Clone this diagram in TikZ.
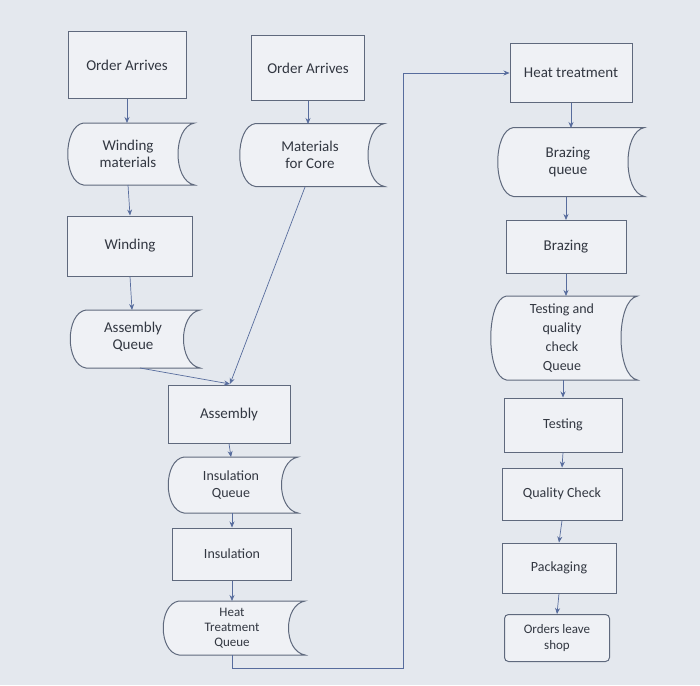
\documentclass[tikz,border=0pt]{standalone}
\usepackage{fontspec}
\setmainfont{Carlito}
\usetikzlibrary{arrows.meta}
\definecolor{ln}{RGB}{95,105,125}
\definecolor{bl}{RGB}{70,100,170}
\definecolor{tx}{RGB}{50,55,65}
\definecolor{bg}{RGB}{228,232,238}
\tikzset{
 box/.style={draw=ln,line width=1pt,minimum width=#1,align=center,text=tx,font=\fontsize{15}{17}\selectfont,fill=bg!60!white},
 q/.style={align=center,text=tx,font=\fontsize{15}{17}\selectfont},
 con/.style={draw=bl!70!gray,line width=0.7pt,-{Stealth[length=6pt,width=5pt]}},
}
\newcommand{\qshape}[5]{% name cx cy w h
 \path (#2-#4/2,#3-#5/2) coordinate (#1-nw) (#2+#4/2,#3+#5/2) coordinate (#1-se);
 \draw[ln,line width=1pt,fill=bg!60!white] (#2-#4/2+16,#3-#5/2) -- (#2+#4/2,#3-#5/2)
   .. controls (#2+#4/2-22,#3-#5/2+4) and (#2+#4/2-22,#3+#5/2-4) .. (#2+#4/2,#3+#5/2)
   -- (#2-#4/2+16,#3+#5/2)
   .. controls (#2-#4/2-5,#3+#5/2-3) and (#2-#4/2-5,#3-#5/2+3) .. cycle;
}
\begin{document}
\begin{tikzpicture}[x=1pt,y=-1pt]
\fill[bg] (0,0) rectangle (700,685);
\useasboundingbox (0,0) rectangle (700,685);
\node[box=118pt,minimum height=66pt] (oa1) at (127,65) {Order Arrives};
\node[box=113pt,minimum height=64pt] (oa2) at (308,68) {Order Arrives};
\node[box=122pt,minimum height=58pt] (ht) at (571,73) {Heat treatment};
\qshape{wm}{131}{154}{127}{62}\node[q] (wmt) at (128,154) {Winding\\materials};
\qshape{mc}{312}{155}{145}{63}\node[q] (mct) at (310,155) {Materials\\for Core};
\qshape{bq}{571}{162}{147}{69}\node[q] (bqt) at (568,162) {Brazing\\queue};
\node[box=125pt,minimum height=60pt] (w) at (130,246) {Winding};
\node[box=120pt,minimum height=53pt] (b) at (566,247) {Brazing};
\qshape{aq}{135}{339}{130}{58}\node[q] (aqt) at (133,337) {Assembly\\Queue};
\qshape{tq}{564}{338}{147}{84}\node[q,font=\fontsize{14}{19}\selectfont] (tqt) at (562,338) {Testing and\\quality\\check\\Queue};
\node[box=122pt,minimum height=58pt] (a) at (229,414) {Assembly};
\node[box=118pt,minimum height=54pt,font=\fontsize{14}{16}\selectfont] (t) at (563,425) {Testing};
\qshape{iq}{233}{485}{130}{56}\node[q,font=\fontsize{14}{17}\selectfont] (iqt) at (231,485) {Insulation\\Queue};
\node[box=120pt,minimum height=52pt,font=\fontsize{14}{16}\selectfont] (qc) at (562,494) {Quality Check};
\node[box=119pt,minimum height=52pt,font=\fontsize{14}{16}\selectfont] (i) at (232,554) {Insulation};
\node[box=114pt,minimum height=50pt,font=\fontsize{14}{16}\selectfont] (p) at (559,568) {Packaging};
\qshape{hq}{234}{628}{142}{54}\node[q,font=\fontsize{13}{15}\selectfont] (hqt) at (232,628) {Heat\\Treatment\\Queue};
\node[box=105pt,minimum height=47pt,rounded corners=4pt,font=\fontsize{13}{16}\selectfont] (ol) at (557,638) {Orders leave\\shop};
% connectors
\draw[con] (oa1.south) -- (127,123);
\draw[con] (oa2.south) -- (308,124);
\draw[con] (ht.south) -- (571,128);
\draw[con] (128,185) -- (w.north);
\draw[con] (bq-se -| b.north) -- (b.north);
\draw[con] (w.south) -- (132,310);
\draw[con] (b.south) -- (566,296);
\draw[con] (140,368) -- (230,384);
\draw[con] (305,187) -- (230,384);
\draw[con] (tq-se -| t.north) -- (t.north);
\draw[con] (a.south) -- (231,457);
\draw[con] (t.south) -- (qc.north);
\draw[con] (232,513) -- (i.north);
\draw[con] (qc.south) -- (p.north);
\draw[con] (i.south) -- (232,601);
\draw[con] (p.south) -- (ol.north);
\coordinate (c1) at (232,668);
\coordinate (c2) at (403,668);
\draw[con] (hq-se -| hqt.south) -- (c1) -- (c2) |- (ht.west);
\end{tikzpicture}
\end{document}
